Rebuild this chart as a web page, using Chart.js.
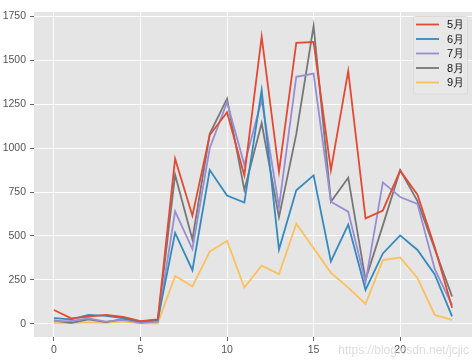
<!DOCTYPE html>
<html>
<head>
<meta charset="utf-8">
<script src="https://cdn.jsdelivr.net/npm/chart.js@4/dist/chart.umd.min.js"></script>
<style>
  html, body { margin: 0; padding: 0; background: #ffffff; }
  #wrap { width: 474px; height: 363px; position: relative; }
</style>
</head>
<body>
<div id="wrap"><canvas id="c" width="474" height="363"></canvas></div>
<script>
const hours = [0,1,2,3,4,5,6,7,8,9,10,11,12,13,14,15,16,17,18,19,20,21,22,23];
const seriesNames = ['5月', '6月', '7月', '8月', '9月'];
const may = [78, 30, 40, 50, 38, 15, 25, 940, 615, 1075, 1205, 845, 1635, 865, 1600, 1605, 875, 1440, 600, 645, 872, 735, 435, 90];
const jun = [32, 25, 50, 44, 32, 12, 22, 518, 305, 875, 730, 690, 1330, 422, 760, 845, 355, 565, 193, 400, 503, 420, 280, 42];
const jul = [15, 15, 30, 12, 22, 5, 12, 640, 425, 1000, 1262, 905, 1275, 665, 1407, 1425, 695, 638, 235, 805, 722, 683, 310, 105];
const aug = [18, 4, 24, 9, 26, 8, 15, 848, 480, 1082, 1282, 762, 1142, 607, 1080, 1696, 695, 832, 250, 560, 875, 698, 425, 155];
const sep = [5, 3, 8, 4, 12, 2, 2, 272, 212, 411, 472, 206, 331, 282, 570, 430, 290, 205, 112, 362, 377, 260, 50, 22];
const xTicks = [0, 5, 10, 15, 20];
const yTicks = [0, 250, 500, 750, 1000, 1250, 1500, 1750];
const colors = ['#E24A33', '#348ABD', '#988ED5', '#777777', '#FBC15E'];
const watermark = 'https://blog.csdn.net/jcjic';

const allSeries = [may, jun, jul, aug, sep];
const datasets = allSeries.map((arr, i) => ({
  label: seriesNames[i],
  data: hours.map((h, j) => ({ x: h, y: arr[j] })),
  borderColor: colors[i],
  backgroundColor: colors[i],
  borderWidth: 1.8,
  pointRadius: 0,
  tension: 0,
  fill: false
}));

const FONT = "'Liberation Sans', Arial, sans-serif";

const bgPlugin = {
  id: 'bg',
  beforeDraw(chart) {
    const { ctx, chartArea: a } = chart;
    ctx.save();
    ctx.fillStyle = '#E5E5E5';
    ctx.fillRect(a.left, a.top, a.right - a.left, a.bottom - a.top);
    ctx.restore();
  }
};

const legendPlugin = {
  id: 'customLegend',
  afterDraw(chart) {
    const { ctx, chartArea: a } = chart;
    const n = chart.data.datasets.length;
    const bw = 54, rowH = 14.5;
    const bh = rowH * n + 5;
    const bx = a.right - 5 - bw, by = a.top + 4;
    ctx.save();
    ctx.fillStyle = 'rgba(232,232,232,0.9)';
    ctx.strokeStyle = '#DADADA';
    ctx.lineWidth = 1;
    ctx.beginPath();
    if (ctx.roundRect) ctx.roundRect(bx + 0.5, by + 0.5, bw, bh, 2); else ctx.rect(bx + 0.5, by + 0.5, bw, bh);
    ctx.fill();
    ctx.stroke();
    ctx.font = '11px ' + FONT;
    ctx.textBaseline = 'middle';
    chart.data.datasets.forEach((ds, i) => {
      const y = by + 8.5 + i * rowH;
      ctx.strokeStyle = ds.borderColor;
      ctx.lineWidth = 1.8;
      ctx.beginPath();
      ctx.moveTo(bx + 3, y);
      ctx.lineTo(bx + 26, y);
      ctx.stroke();
      ctx.fillStyle = '#111';
      ctx.fillText(ds.label, bx + 34, y + 0.5);
    });
    // watermark
    ctx.font = '12px ' + FONT;
    ctx.textAlign = 'right';
    ctx.textBaseline = 'middle';
    ctx.fillStyle = 'rgba(215,215,215,0.85)';
    ctx.fillText(watermark, 469, 351);
    ctx.restore();
  }
};

new Chart(document.getElementById('c'), {
  type: 'line',
  data: { datasets },
  plugins: [bgPlugin, legendPlugin],
  options: {
    responsive: false,
    animation: false,
    layout: { padding: { top: 12, right: 2, left: 0, bottom: 0 } },
    plugins: { legend: { display: false }, tooltip: { enabled: false } },
    scales: {
      x: {
        type: 'linear',
        min: -1.15,
        max: 24.15,
        afterBuildTicks(scale) { scale.ticks = xTicks.map(v => ({ value: v })); },
        afterFit(scale) { scale.height = 26; },
        ticks: { color: '#555555', font: { family: FONT, size: 10.5 }, padding: 3, maxRotation: 0,
                 callback: v => String(v) },
        grid: { color: '#FFFFFF', lineWidth: 1, drawTicks: true, tickLength: 4, tickColor: '#666666' },
        border: { display: false }
      },
      y: {
        type: 'linear',
        min: -76,
        max: 1776,
        afterBuildTicks(scale) { scale.ticks = yTicks.map(v => ({ value: v })); },
        afterFit(scale) { scale.width = 34; },
        ticks: { color: '#555555', font: { family: FONT, size: 10.5 }, padding: 4,
                 callback: v => String(v) },
        grid: { color: '#FFFFFF', lineWidth: 1, drawTicks: true, tickLength: 4, tickColor: '#666666' },
        border: { display: false }
      }
    }
  }
});
</script>
</body>
</html>
